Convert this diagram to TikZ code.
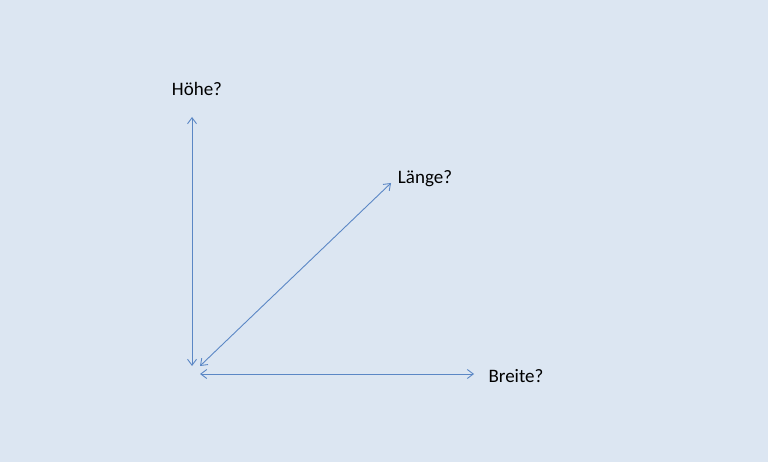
\documentclass[tikz,border=0pt]{standalone}
\usepackage{fontspec}
\setmainfont{Carlito}
\usetikzlibrary{arrows.meta}
\definecolor{bg}{HTML}{DCE6F2}
\definecolor{arr}{HTML}{5B87C5}
\begin{document}
\begin{tikzpicture}[x=1pt,y=-1pt,
  lab/.style={font=\fontsize{19}{21}\selectfont, text=black, inner sep=0pt},
  axis/.style={draw=arr, line width=0.9pt, {Straight Barb[length=6pt,width=9pt]}-{Straight Barb[length=6pt,width=9pt]}}]
\fill[bg] (0,0) rectangle (768,462);
\useasboundingbox (0,0) rectangle (768,462);
\coordinate (vt) at (192,117);
\coordinate (vb) at (192,366);
\coordinate (db) at (200,366);
\coordinate (dt) at (391,183);
\coordinate (hl) at (200,374);
\coordinate (hr) at (474,374);
\draw[axis] (vb) -- (vt);
\draw[axis] (db) -- (dt);
\draw[axis] (hl) -- (hr);
\node[lab] (hoehe) at (197,89) {Höhe?};
\node[lab] (laenge) at (425,179) {Länge?};
\node[lab] (breite) at (516,376) {Breite?};
\end{tikzpicture}
\end{document}
